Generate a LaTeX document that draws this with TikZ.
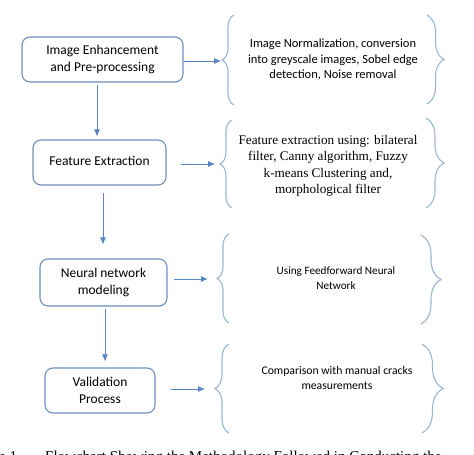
\documentclass[tikz,border=0pt]{standalone}
\usepackage{fontspec}
\setmainfont{Carlito}
\newfontfamily\serifz{Liberation Serif}
\usetikzlibrary{decorations.pathreplacing,arrows.meta}
\definecolor{boxc}{HTML}{6F8FC0}
\definecolor{arrc}{HTML}{5585C2}
\definecolor{brc}{HTML}{9AB5DA}
\begin{document}
\begin{tikzpicture}[x=1pt,y=-1pt,
  box/.style={draw=boxc,line width=1.1pt,rounded corners=8pt,inner sep=0pt,align=center,font=\fontsize{13.5}{16.5}\selectfont},
  desc/.style={inner sep=0pt,align=center,font=\fontsize{#1}{15.5}\selectfont},
  descserif/.style={inner sep=0pt,align=center,font=\serifz\fontsize{13.2}{16.5}\selectfont},
  arr/.style={draw=arrc,line width=0.9pt,-{Latex[length=7pt,width=6pt]}},
  bracez/.style={draw=brc,line width=1.1pt,decorate,decoration={brace,amplitude=#1}},
  capt/.style={inner sep=0pt,font=\serifz\fontsize{15}{18}\selectfont}
]
\useasboundingbox (0,0) rectangle (474,455);
\clip (0,0) rectangle (474,455);
\fill[white] (0,0) rectangle (474,455);

% boxes
\node[box,minimum width=161pt,minimum height=45pt] (b1) at (102.5,59.5) {Image Enhancement\\and Pre-processing};
\node[box,minimum width=133pt,minimum height=45pt] (b2) at (99.5,162.5) {\raisebox{4pt}{Feature Extraction}};
\node[box,minimum width=127pt,minimum height=47pt] (b3) at (103.5,282.5) {Neural network\\modeling};
\node[box,minimum width=110pt,minimum height=45pt] (b4) at (100,390.5) {Validation\\Process};

% descriptions
\node[desc=12.5] (t1) at (333,59.5) {Image Normalization, conversion\\into greyscale images, Sobel edge\\detection, Noise removal};
\node[descserif] (t2) at (328,166) {Feature extraction using: bilateral\\filter, Canny algorithm, Fuzzy\\k-means Clustering and,\\morphological filter};
\node[desc=11.2] (t3) at (336,278) {Using Feedforward Neural\\Network};
\node[desc=11.7] (t4) at (337,378) {Comparison with manual cracks\\measurements};

% brace end points
\coordinate (l1a) at (234,105); \coordinate (l1b) at (234,15);
\coordinate (l2a) at (232,208); \coordinate (l2b) at (232,120);
\coordinate (l3a) at (229,323); \coordinate (l3b) at (229,234);
\coordinate (l4a) at (229,433); \coordinate (l4b) at (229,344);
\coordinate (r1a) at (427,15);  \coordinate (r1b) at (427,104);
\coordinate (r2a) at (426,118); \coordinate (r2b) at (426,208);
\coordinate (r3a) at (421,235); \coordinate (r3b) at (421,324);
\coordinate (r4a) at (422,344); \coordinate (r4b) at (422,433);

\draw[bracez=12pt] (l1a) -- (l1b);
\draw[bracez=12pt] (l2a) -- (l2b);
\draw[bracez=12pt] (l3a) -- (l3b);
\draw[bracez=14pt] (l4a) -- (l4b);
\draw[bracez=17pt] (r1a) -- (r1b);
\draw[bracez=18pt] (r2a) -- (r2b);
\draw[bracez=20pt] (r3a) -- (r3b);
\draw[bracez=21pt] (r4a) -- (r4b);

% brace tips (arrow targets)
\coordinate (p1) at (221,61);
\coordinate (p2) at (215,164);
\coordinate (p3) at (208,279);
\coordinate (p4) at (205,389);

% horizontal arrows
\draw[arr] (b1.east |- p1) -- (p1);
\draw[arr,shorten <=14pt] (b2.east |- p2) -- (p2);
\draw[arr,shorten <=6pt] (b3.east |- p3) -- (p3);
\draw[arr,shorten <=15pt] (b4.east |- p4) -- (p4);

% vertical arrows
\coordinate (v1) at (97,0);
\coordinate (v2) at (103,0);
\coordinate (v3) at (105,0);
\draw[arr,shorten <=2pt,shorten >=3pt] (b1.south -| v1) -- (b2.north -| v1);
\draw[arr,shorten <=7pt,shorten >=14pt] (b2.south -| v2) -- (b3.north -| v2);
\draw[arr,shorten <=2pt,shorten >=6pt] (b3.south -| v3) -- (b4.north -| v3);

% caption (cut off by the picture's edge, as in the reference)
\node[capt,anchor=base east] (c1) at (21,461) {Figure 1.};
\node[capt,anchor=base west] (c2) at (45,461) {Flowchart Showing the Methodology Followed in Conducting the};
\end{tikzpicture}
\end{document}
